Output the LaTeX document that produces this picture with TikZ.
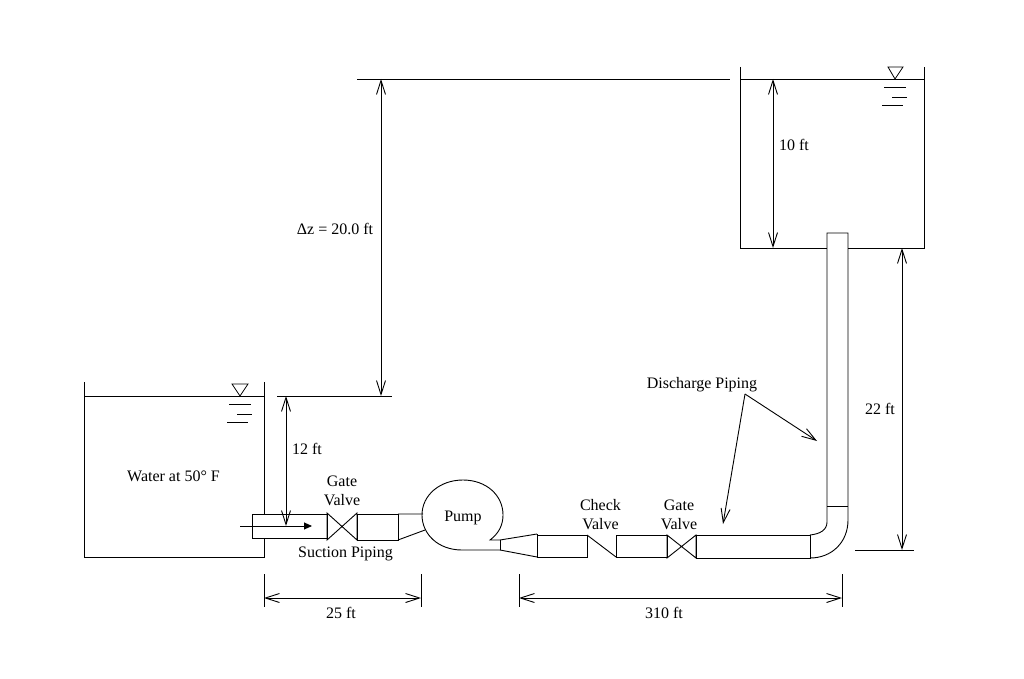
\documentclass[tikz,border=0pt]{standalone}
\usepackage{fontspec}
\setmainfont{Liberation Serif}
\usetikzlibrary{arrows.meta}
\tikzset{
  part/.style={line width=0.9pt},
  dim/.style={line width=0.9pt,{Straight Barb[length=14pt,width=9pt]}-{Straight Barb[length=14pt,width=9pt]}},
  pointer/.style={line width=0.9pt,-{Straight Barb[length=14pt,width=9pt]}},
  lbl/.style={inner sep=0pt,font=\fontsize{16}{19}\selectfont,align=center}
}
\begin{document}
\begin{tikzpicture}[x=1pt,y=-1pt]
  \useasboundingbox (0,0) rectangle (1024,679);
  % levels
  \coordinate (hightop) at (381,79);
  \coordinate (highlow) at (381,396);
  \draw[part] (357,79) -- (730,79);
  \draw[part] (277,396) -- (392,396);
  % supply tank
  \draw[part] (84,382) -- (84,557) -- (264,557) -- (264,539);
  \draw[part] (264,514) -- (264,382);
  \draw[part] (84,396) -- (264,396);
  \draw[line width=0.8pt] (232,384) -- (248,384) -- (240,396) -- cycle;
  \draw[part] (229,404) -- (251,404) (237,414) -- (252,414) (227,422) -- (248,422);
  \node[lbl] (water) at (173.5,476) {Water at 50° F};
  % upper tank
  \draw[part] (740,67) -- (740,248) -- (827,248);
  \draw[part] (848,248) -- (924,248) -- (924,67);
  \draw[part] (740,79) -- (924,79);
  \draw[line width=0.8pt] (888,67) -- (903,67) -- (895,79) -- cycle;
  \draw[part] (884,87) -- (906,87) (892,97) -- (907,97) (882,105) -- (903,105);
  % suction side
  \draw[part] (252,514) rectangle (327,538);
  \draw[part] (327,513) -- (357,540) -- (357,513) -- (327,540) -- cycle;
  \draw[part] (357,514) rectangle (398,540);
  \draw[part] (398,514) -- (423,514) (398,540) -- (425,530);
  \node[lbl] (gatea) at (342,491) {Gate\\Valve};
  \node[lbl] (suction) at (345.5,554) {Suction Piping};
  \coordinate (flowa) at (240,526);
  \coordinate (flowb) at (312,526);
  \draw[line width=0.9pt,-{Triangle[length=8pt,width=7pt]}] (flowa) -- (flowb);
  % pump
  \draw[part] (500,550) -- (462,550) .. controls (438,550) and (422,534) .. (422,515)
    .. controls (422,495) and (440,480) .. (463,480)
    .. controls (486,480) and (503,495) .. (503,515)
    .. controls (503,526) and (498,534) .. (490,540) -- (500,540);
  \node[lbl] (pump) at (463,518) {Pump};
  % discharge side
  \draw[part] (500,540) -- (500,550);
  \draw[part] (500,540) -- (537,534) (500,550) -- (537,557);
  \draw[part] (537,534) -- (537,557);
  \draw[part] (537,535) rectangle (587,557);
  \draw[part] (587,535) -- (616,557);
  \draw[part] (616,535) rectangle (667,557);
  \draw[part] (667,535) -- (696,558) -- (696,535) -- (667,558) -- cycle;
  \draw[part] (696,535) rectangle (810,558);
  \node[lbl] (check) at (600.5,514.5) {Check\\Valve};
  \node[lbl] (gateb) at (679,514.5) {Gate\\Valve};
  % elbow and riser
  \draw[part] (810,535) .. controls (820,534) and (827,530) .. (827,522) -- (827,233) -- (848,233) -- (848,520)
    .. controls (848,542) and (832,558) .. (810,558);
  \draw[part] (827,506) -- (848,506);
  % dimensions
  \coordinate (tentop) at (773,79);
  \coordinate (tenlow) at (773,248);
  \draw[dim] (tentop) -- (tenlow);
  \node[lbl] (tenft) at (794,145) {10 ft};
  \draw[dim] (hightop) -- (highlow);
  \node[lbl] (dz) at (335,229) {Δz = 20.0 ft};
  \coordinate (sucktop) at (286,396);
  \coordinate (sucklow) at (286,526);
  \draw[dim] (sucktop) -- (sucklow);
  \node[lbl] (twelve) at (307,449) {12 ft};
  \coordinate (risetop) at (902,248);
  \coordinate (riselow) at (902,550);
  \draw[part] (855,550) -- (914,550);
  \draw[dim] (risetop) -- (riselow);
  \node[lbl] (twotwo) at (880,409) {22 ft};
  \draw[part] (264,574) -- (264,607) (421,574) -- (421,607);
  \coordinate (shorta) at (264,598);
  \coordinate (shortb) at (421,598);
  \draw[dim] (shorta) -- (shortb);
  \node[lbl] (twofive) at (341,613) {25 ft};
  \draw[part] (519,574) -- (519,607) (842,574) -- (842,607);
  \coordinate (longa) at (519,598);
  \coordinate (longb) at (842,598);
  \draw[dim] (longa) -- (longb);
  \node[lbl] (threeten) at (664,613) {310 ft};
  % discharge label
  \node[lbl] (discharge) at (702,385) {Discharge Piping};
  \coordinate (fork) at (745,394);
  \coordinate (forka) at (817,441);
  \coordinate (forkb) at (723,524);
  \draw[pointer] (fork) -- (forka);
  \draw[pointer] (fork) -- (forkb);
\end{tikzpicture}
\end{document}
